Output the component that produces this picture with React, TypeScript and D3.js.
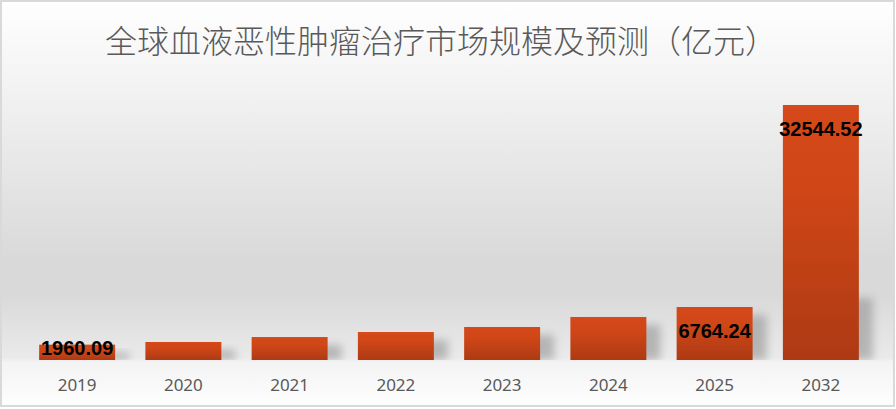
import { useEffect, useRef } from "react";
import * as d3 from "d3";

const years = ["2019", "2020", "2021", "2022", "2023", "2024", "2025", "2032"];
const marketSize = [1960.09, 2300, 2930, 3570, 4210, 5490, 6764.24, 32544.52];
// only these bars carry a data label in the original
const labelled = ["2019", "2025", "2032"];
const title = "全球血液恶性肿瘤治疗市场规模及预测（亿元）";

const W = 896;
const H = 409;

const App = () => {
  const ref = useRef<SVGSVGElement>(null);

  useEffect(() => {
    const svg = d3.select(ref.current);
    svg.selectAll("*").remove();

    const defs = svg.append("defs");

    const bg = defs
      .append("linearGradient")
      .attr("id", "bg")
      .attr("gradientUnits", "userSpaceOnUse")
      .attr("x1", 0).attr("y1", 0).attr("x2", 0).attr("y2", H);
    bg.append("stop").attr("offset", 0).attr("stop-color", "#ffffff");
    bg.append("stop").attr("offset", 0.64).attr("stop-color", "#d9d9d9");
    bg.append("stop").attr("offset", 0.72).attr("stop-color", "#d9d9d9");
    bg.append("stop").attr("offset", 0.875).attr("stop-color", "#eaeaea");
    bg.append("stop").attr("offset", 0.885).attr("stop-color", "#f3f3f3");
    bg.append("stop").attr("offset", 1).attr("stop-color", "#ffffff");

    const barGrad = defs
      .append("linearGradient")
      .attr("id", "bar")
      .attr("x1", 0).attr("y1", 0).attr("x2", 0).attr("y2", 1);
    barGrad.append("stop").attr("offset", 0).attr("stop-color", "#d5491a");
    barGrad.append("stop").attr("offset", 0.35).attr("stop-color", "#cf4617");
    barGrad.append("stop").attr("offset", 1).attr("stop-color", "#ad3a14");

    defs
      .append("filter")
      .attr("id", "blur")
      .attr("x", "-50%").attr("y", "-50%").attr("width", "200%").attr("height", "200%")
      .append("feGaussianBlur")
      .attr("stdDeviation", 4);

    svg.append("rect")
      .attr("x", 1).attr("y", 1)
      .attr("width", W - 3).attr("height", H - 4)
      .attr("fill", "url(#bg)")
      .attr("stroke", "#d9d9d9")
      .attr("stroke-width", 2);

    svg.append("text")
      .attr("x", 441)
      .attr("y", 39)
      .attr("text-anchor", "middle")
      .attr("dominant-baseline", "central")
      .attr("font-family", "'Noto Sans CJK SC', sans-serif")
      .attr("font-size", 32)
      .attr("font-weight", 300)
      .attr("fill", "#595959")
      .text(title);

    const data = years.map((year, i) => ({ year, value: marketSize[i] }));

    const x = d3.scaleBand().domain(years).range([24, 874]).paddingInner(0.285).paddingOuter(0.1425);
    const y = d3.scaleLinear().domain([0, d3.max(marketSize) as number]).range([360, 105]);
    const base = y(0);

    // soft shadows on the right of each bar
    svg.append("g")
      .selectAll("rect")
      .data(data)
      .enter()
      .append("rect")
      .attr("x", (d) => (x(d.year) as number) + 8)
      .attr("y", (d) => Math.max(y(d.value) + 8, base - 62))
      .attr("width", x.bandwidth() + 6)
      .attr("height", (d) => base - Math.max(y(d.value) + 8, base - 62))
      .attr("fill", "#8c8c8c")
      .attr("opacity", 0.55)
      .attr("filter", "url(#blur)");

    // cover shadow below the baseline
    svg.append("rect")
      .attr("x", 2).attr("y", base)
      .attr("width", W - 5).attr("height", H - base - 4)
      .attr("fill", "url(#bg)");

    svg.append("g")
      .selectAll("rect")
      .data(data)
      .enter()
      .append("rect")
      .attr("x", (d) => x(d.year) as number)
      .attr("y", (d) => y(d.value))
      .attr("width", x.bandwidth())
      .attr("height", (d) => base - y(d.value))
      .attr("fill", "url(#bar)");

    // data labels: inside end, pushed up when the bar is too short
    svg.append("g")
      .selectAll("text")
      .data(data.filter((d) => labelled.includes(d.year)))
      .enter()
      .append("text")
      .attr("x", (d) => (x(d.year) as number) + x.bandwidth() / 2)
      .attr("y", (d) => Math.min(y(d.value) + 31, base - 5))
      .attr("text-anchor", "middle")
      .attr("font-family", "'Liberation Sans', Arial, sans-serif")
      .attr("font-weight", "bold")
      .attr("font-size", 20)
      .attr("fill", "#000000")
      .text((d) => d.value.toFixed(2));

    svg.append("g")
      .selectAll("text")
      .data(years)
      .enter()
      .append("text")
      .attr("x", (d) => (x(d) as number) + x.bandwidth() / 2)
      .attr("y", 391)
      .attr("text-anchor", "middle")
      .attr("font-family", "'Noto Sans', sans-serif")
      .attr("font-size", 17)
      .attr("fill", "#595959")
      .text((d) => d);
  }, []);

  return (
    <svg
      ref={ref}
      width={W}
      height={H}
      style={{ position: "absolute", left: 0, top: 0, display: "block" }}
    />
  );
};

export default App;
